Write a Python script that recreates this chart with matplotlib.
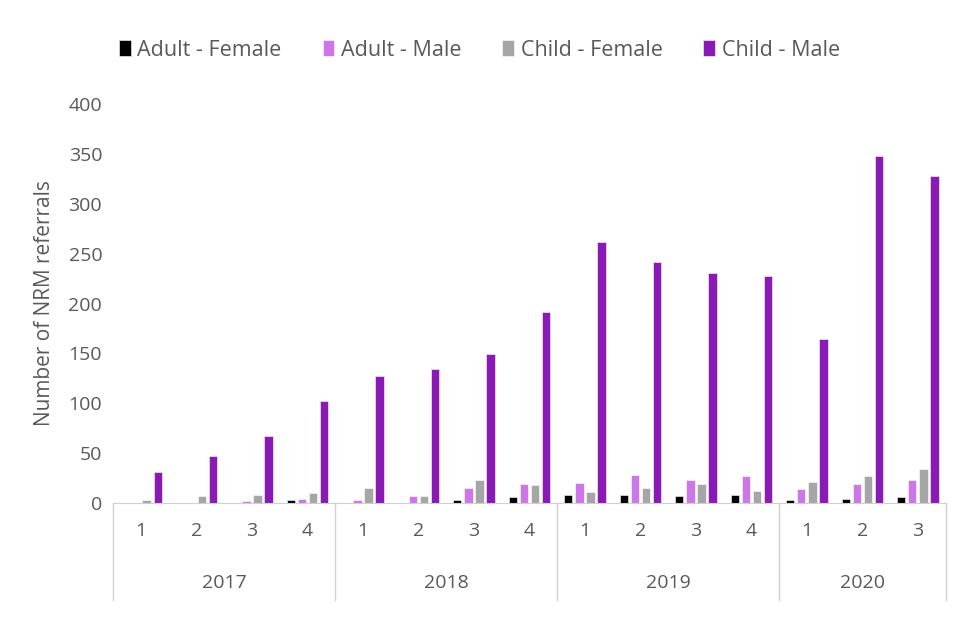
import matplotlib.pyplot as plt
import matplotlib.transforms as mtransforms
import numpy as np

plt.rcParams['font.family'] = ['Open Sans', 'DejaVu Sans']

years = ['2017', '2018', '2019', '2020']
quarters = ['1', '2', '3', '4', '1', '2', '3', '4', '1', '2', '3', '4', '1', '2', '3']
quarters_per_year = [4, 4, 4, 3]

adult_female = [0, 0, 0, 3, 0, 0, 3, 6, 8, 8, 7, 8, 3, 4, 6]
adult_male = [0, 0, 2, 4, 3, 7, 15, 19, 20, 28, 23, 27, 14, 19, 23]
child_female = [3, 7, 8, 10, 15, 7, 23, 18, 11, 15, 19, 12, 21, 27, 34]
child_male = [31, 47, 67, 102, 127, 134, 149, 192, 262, 242, 231, 228, 164, 348, 328]

series = [
    ('Adult - Female', adult_female, '#000000'),
    ('Adult - Male', adult_male, '#CC77E8'),
    ('Child - Female', child_female, '#A6A6A6'),
    ('Child - Male', child_male, '#8A1AB4'),
]

text_color = '#595959'

fig = plt.figure(figsize=(9.6, 6.4), dpi=100)
ax = fig.add_axes([0.118, 0.214, 0.867, 0.6235])

x = np.arange(len(quarters))
for i, (name, vals, col) in enumerate(series):
    ax.bar(x + (i - 1.5) * 0.2, vals, width=0.15, color=col, label=name,
           edgecolor='white', linewidth=0.4)

ax.set_xlim(-0.5, len(quarters) - 0.5)
ax.set_ylim(0, 400)
ax.set_yticks(range(0, 401, 50))
ax.set_xticks(x)
ax.set_xticklabels(quarters)
ax.tick_params(axis='x', length=0, pad=14, labelsize=14, colors=text_color)
ax.tick_params(axis='y', length=0, pad=8, labelsize=14, colors=text_color)

for side in ['top', 'right', 'left']:
    ax.spines[side].set_visible(False)
ax.spines['bottom'].set_color('#D0D0D0')

ax.set_ylabel('Number of NRM referrals', fontsize=15, color=text_color, labelpad=10)

# year separators and labels
trans = mtransforms.blended_transform_factory(ax.transData, ax.transAxes)
bounds = np.concatenate([[0], np.cumsum(quarters_per_year)]) - 0.5
for b in bounds:
    ax.plot([b, b], [0, -0.243], color='#D0D0D0', linewidth=1, transform=trans, clip_on=False)
for j, yr in enumerate(years):
    ax.text((bounds[j] + bounds[j + 1]) / 2, -0.2, yr, transform=trans, ha='center', va='center',
            fontsize=14, color=text_color)

ax.legend(loc='lower center', bbox_to_anchor=(0.44, 1.06), ncol=4, frameon=False,
          fontsize=15.5, handlelength=0.55, handleheight=0.8, columnspacing=1.9,
          handletextpad=0.3, labelcolor=text_color)

fig.savefig('out.png', dpi=100)
